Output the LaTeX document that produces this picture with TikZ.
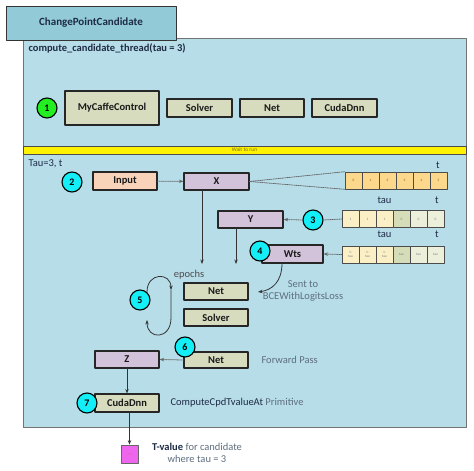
\documentclass[tikz,border=0pt]{standalone}
\usepackage{fontspec}
\setmainfont{Carlito}
\usetikzlibrary{arrows.meta,positioning}

\definecolor{panelblue}{HTML}{B7DDE8}
\definecolor{tabblue}{HTML}{92CAD8}
\definecolor{khaki}{HTML}{D7DCBE}
\definecolor{peach}{HTML}{F9D3B9}
\definecolor{lilac}{HTML}{D3C3DA}
\definecolor{cellorange}{HTML}{FCD88C}
\definecolor{cellcream}{HTML}{FBEFC6}
\definecolor{cellolive}{HTML}{D5DCB8}
\definecolor{cellpale}{HTML}{ECEFDA}
\definecolor{inkblue}{HTML}{1E2B45}
\definecolor{notegray}{HTML}{5E6E7E}
\definecolor{tvalpink}{HTML}{EE66EE}
\definecolor{badgecyan}{HTML}{14EEF6}
\definecolor{badgegreen}{HTML}{22EE22}

\begin{document}
\begin{tikzpicture}[x=1pt, y=-1pt, line cap=round, line join=round]
  \useasboundingbox (0,0) rectangle (474,471);
  \tikzset{
    panel/.style={draw=black!55, line width=0.9pt, fill=panelblue},
    blk/.style={draw=black!85, line width=1.1pt, fill=khaki, inner sep=0pt,
      font=\bfseries\fontsize{10.5pt}{12pt}\selectfont, text=black!90},
    tensor/.style={blk, fill=lilac},
    badge/.style={circle, draw=black, line width=1.1pt, fill=badgecyan, inner sep=0pt,
      minimum size=20pt, font=\bfseries\fontsize{10pt}{11pt}\selectfont},
    cell/.style={draw=black!70, line width=0.6pt, inner sep=0pt, minimum width=17pt,
      minimum height=17pt, font=\fontsize{3.5pt}{4pt}\selectfont, text=black!50,
      align=center},
    note/.style={font=\fontsize{10.5pt}{12pt}\selectfont, text=notegray, align=center},
    arr/.style={line width=0.8pt, draw=black!80, -{Stealth[length=4.5pt, width=3.4pt]}},
    dotarr/.style={arr, densely dotted, draw=black!60}
  }

  % panel and tab
  \draw[panel] (23,38) rectangle (466,427);
  \node[draw=black!80, line width=1pt, fill=tabblue, minimum width=170pt, minimum height=34pt,
    font=\bfseries\fontsize{11pt}{13pt}\selectfont, text=inkblue] (tab) at (91,23) {ChangePointCandidate};
  \node[anchor=west, font=\bfseries\fontsize{10.5pt}{12pt}\selectfont, text=inkblue] (thread) at (25,48)
    {compute\_candidate\_thread(tau = 3)};

  % step 1
  \node[blk, minimum width=94pt, minimum height=34pt] (ctrl) at (112,108) {MyCaffeControl};
  \node[blk, minimum width=65pt, minimum height=18pt] (solver) at (199.5,108) {Solver};
  \node[blk, minimum width=64pt, minimum height=18pt] (net) at (272,108) {Net};
  \node[blk, minimum width=65pt, minimum height=18pt] (cuda) at (344.5,108) {CudaDnn};
  \node[badge, fill=badgegreen] (c1) at (47,108) {1};

  % wait bar
  \node[draw=black!70, line width=0.8pt, fill=yellow, minimum width=443pt, minimum height=8pt,
    inner sep=0pt, font=\fontsize{5.5pt}{6pt}\selectfont, text=olive!80!black] (wait) at (244.5,150) {Wait to run};
  \node[anchor=west, font=\fontsize{10.5pt}{12pt}\selectfont, text=inkblue] (taut) at (25,164) {Tau=3, t};

  % step 2: input
  \node[badge] (c2) at (72,182) {2};
  \node[blk, fill=peach, minimum width=64pt, minimum height=18pt] (input) at (125,181) {Input};
  \node[tensor, minimum width=65pt, minimum height=17pt] (x) at (216.5,181.5) {X};
  \draw[dotarr] (input) -- (x);

  \foreach \v [count=\i] in {0,1,2,3,4,5}
    \node[cell, fill=cellorange, text=orange!60!black] (a\i) at (336.5+17*\i,180.5) {\v};
  \node[font=\fontsize{10.5pt}{12pt}\selectfont, text=inkblue] (ta) at (438,165) {t};
  \draw[densely dotted, draw=black!60, line width=0.8pt] (x.east) -- (a1.north west);
  \draw[densely dotted, draw=black!60, line width=0.8pt] (x.east) -- (a1.south west);

  % step 3: labels
  \node[tensor, minimum width=65pt, minimum height=17pt] (y) at (250.5,219.5) {Y};
  \foreach \v/\c [count=\i] in {1/cellcream,1/cellcream,1/cellcream,0/cellolive,0/cellpale,0/cellpale}
    \node[cell, fill=\c] (b\i) at (333.5+17*\i,219) {\v};
  \node[font=\fontsize{10.5pt}{12pt}\selectfont, text=inkblue] (taub) at (384.5,200) {tau};
  \node[font=\fontsize{10.5pt}{12pt}\selectfont, text=inkblue] (tb) at (437,200) {t};
  \node[badge] (c3) at (313,220) {3};
  \draw[densely dotted, draw=black!60, line width=0.8pt] (b1.west) -- (c3.east);
  \draw[dotarr] (c3.west) -- (y.east);

  % step 4: weights
  \node[tensor, minimum width=61pt, minimum height=18pt] (wts) at (292.5,254) {Wts};
  \node[badge] (c4) at (260,251) {4};
  \foreach \v/\c [count=\i] in {1-\\tau/cellcream,1-\\tau/cellcream,1-\\tau/cellcream,tau/cellolive,tau/cellpale,tau/cellpale}
    \node[cell, fill=\c] (w\i) at (333.5+17*\i,254.5) {\v};
  \node[font=\fontsize{10.5pt}{12pt}\selectfont, text=inkblue] (tauw) at (384.5,234) {tau};
  \node[font=\fontsize{10.5pt}{12pt}\selectfont, text=inkblue] (tw) at (437,234) {t};
  \draw[dotarr] (w1.west) -- (wts.east);

  % step 5: training
  \node[blk, minimum width=64pt, minimum height=17pt] (tnet) at (216,291.5) {Net};
  \node[blk, minimum width=64pt, minimum height=17pt] (tsolver) at (216,317.5) {Solver};
  \coordinate (xend) at (202,264);
  \coordinate (yend) at (236,264);
  \draw[arr] (x.south -| xend) -- (xend);
  \draw[arr] (y.south -| yend) -- (yend);
  \node[font=\fontsize{10.5pt}{12pt}\selectfont, text=black!70] (epochs) at (189,275) {epochs};
  \coordinate (sent) at (258,292);
  \draw[arr] (282,263) .. controls (282,282) and (272,290) .. (sent);
  \node[note] (bce) at (303,291) {Sent to\\BCEWithLogitsLoss};
  \draw[arr] (147,292) .. controls (147,272) and (171,272) .. (171,290);
  \draw[arr] (171,290) -- (171,318) .. controls (171,340) and (147,340) .. (147,320);
  \node[badge] (c5) at (140,300) {5};

  % step 6: forward pass
  \node[blk, minimum width=64pt, minimum height=16pt] (fnet) at (216,360) {Net};
  \node[tensor, minimum width=64pt, minimum height=17pt] (z) at (127,359.5) {Z};
  \node[badge] (c6) at (185,347) {6};
  \draw[dotarr] (fnet.west) -- (z.east);
  \node[note, anchor=west] (fwd) at (258,360) {Forward Pass};

  % step 7: primitive
  \node[blk, minimum width=64pt, minimum height=18pt] (pcuda) at (127,403) {CudaDnn};
  \node[badge] (c7) at (87,403) {7};
  \draw[arr] (z.south -| pcuda) -- (pcuda.north);
  \node[note, anchor=west] (prim) at (167,403) {\textcolor{inkblue}{ComputeCpdTvalueAt} Primitive};

  % result
  \node[draw=black!60, line width=0.7pt, fill=tvalpink, minimum width=17pt, minimum height=18pt,
    inner sep=0pt, font=\fontsize{3pt}{4pt}\selectfont, text=purple!60] (tval) at (129.5,454) {tval};
  \draw[arr] (pcuda.south -| tval) -- (tval.north);
  \node[note] (result) at (197,453) {\textcolor{inkblue}{\textbf{T-value}} for candidate\\where tau = 3};
\end{tikzpicture}
\end{document}
